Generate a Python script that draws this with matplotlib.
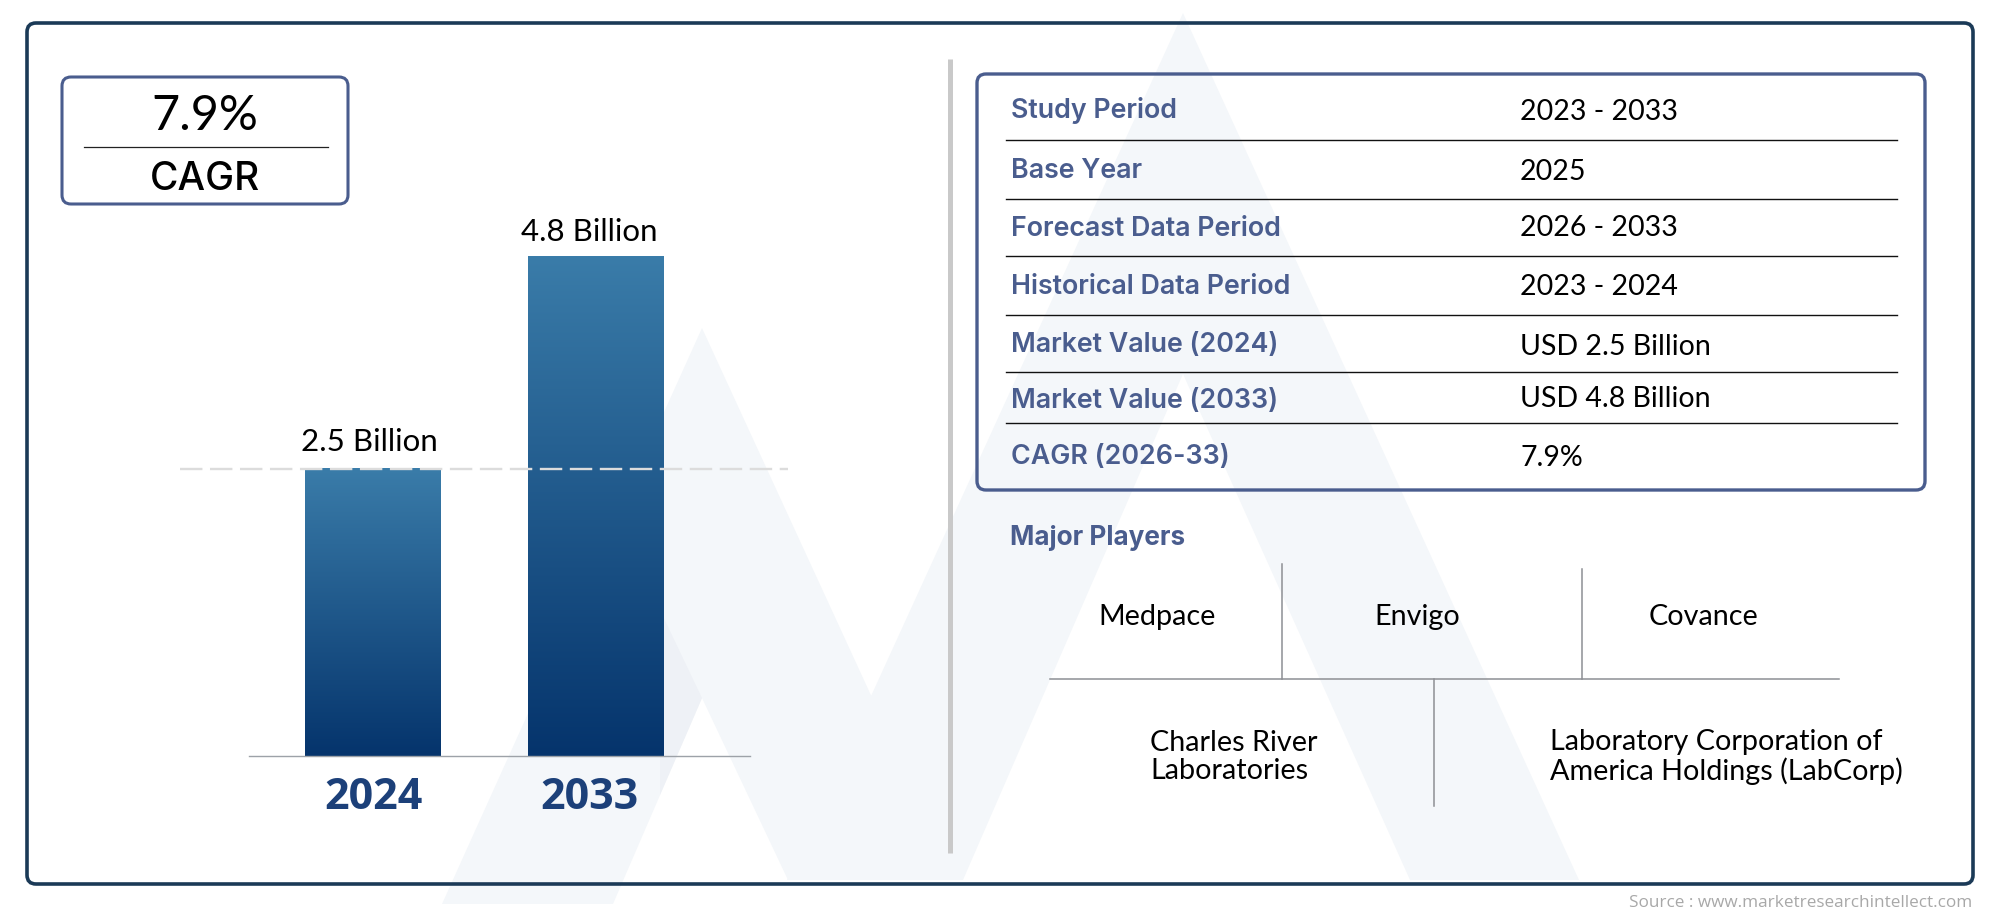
import numpy as np
import matplotlib
matplotlib.use("Agg")
import matplotlib.pyplot as plt
from matplotlib.colors import LinearSegmentedColormap
from matplotlib.patches import FancyBboxPatch, Polygon
from matplotlib.transforms import ScaledTranslation

W, H = 2000, 917

# data
years = ["2024", "2033"]
values = [2.5, 4.8]
value_labels = ["2.5 Billion", "4.8 Billion"]
baseline = -0.6   # bars in the source do not start at zero

rows = ["Study Period", "Base Year", "Forecast Data Period", "Historical Data Period",
        "Market Value (2024)", "Market Value (2033)", "CAGR (2026-33)"]
row_values = ["2023 - 2033", "2025", "2026 - 2033", "2023 - 2024",
              "USD 2.5 Billion", "USD 4.8 Billion", "7.9%"]
row_y = [111, 171, 229, 287, 345, 401, 457]
row_value_y = [112, 172, 228, 287, 347, 399, 458]
rule_y = [140, 199, 256, 315, 372, 423]

players = ["Medpace", "Envigo", "Covance"]
players_x = [1157, 1417, 1703]
players2 = ["Charles River\nLaboratories", "Laboratory Corporation of\nAmerica Holdings (LabCorp)"]
players2_x = [1150, 1550]

# label nudges in points, the source labels are not centred on the bars
label_dx = [-2.7, -4.6]
label_dy = [9.3, 7.2]

NAVY = "#1b3a57"
SLATE = "#4a5d8e"
TINT = "#f4f7fa"
BODY = "Lato"
HEAD = "Inter"

fig = plt.figure(figsize=(W / 100, H / 100), dpi=100, facecolor="white")

# page layer in pixel coords
bg = fig.add_axes([0, 0, 1, 1])
bg.set_xlim(0, W)
bg.set_ylim(H, 0)
bg.axis("off")

# watermark
big_peak = [(1183, 13), (1579, 880), (1410, 880), (1183, 374), (963, 880), (787, 880)]
small_peak = [(702, 328), (956, 880), (788, 880), (702, 698), (613, 904), (442, 904)]
overlap = [(702, 698), (660, 610), (660, 795)]
bg.add_patch(Polygon(big_peak, fc=TINT, ec="none", zorder=1))
bg.add_patch(Polygon(small_peak, fc=TINT, ec="none", zorder=1))
bg.add_patch(Polygon(overlap, fc="#eef1f6", ec="none", zorder=1))


def box(x0, y0, x1, y1, color, lw):
    bg.add_patch(FancyBboxPatch((x0, y0), x1 - x0, y1 - y0,
                                boxstyle="round,pad=0,rounding_size=9",
                                fc="none", ec=color, lw=lw, zorder=2))


box(27, 23, 1973, 884, NAVY, 2.6)
box(62, 77, 348, 204, SLATE, 2.2)
box(977, 74, 1925, 490, SLATE, 2.4)

# cagr card
bg.plot([84, 328], [147, 147], color="#222222", lw=0.9, zorder=3)
bg.text(205, 116, "7.9%", family=BODY, fontsize=35, ha="center", va="center", color="black", zorder=3)
bg.text(205, 179, "CAGR", family=HEAD, fontsize=28, fontweight=500, ha="center", va="center", color="black", zorder=3)

# divider
bg.plot([950, 950], [59, 853], color="#c9c9c9", lw=3.6, solid_capstyle="butt", zorder=2)

# table
for label, val, y1, y2 in zip(rows, row_values, row_y, row_value_y):
    bg.text(1011, y1, label, family=HEAD, fontsize=19.3, fontweight=600, color=SLATE, va="center", zorder=3)
    bg.text(1520, y2, val, family=BODY, fontsize=20.5, color="black", va="center", zorder=3)
for y in rule_y:
    bg.plot([1006, 1897], [y, y], color="#111111", lw=1.0, zorder=3)

# major players
bg.text(1010, 538, "Major Players", family=HEAD, fontsize=18.8, fontweight=700, color=SLATE, va="center", zorder=3)
for x0, y0, x1, y1 in [(1282, 564, 1282, 679), (1582, 569, 1582, 679), (1050, 679, 1839, 679), (1434, 679, 1434, 806)]:
    bg.plot([x0, x1], [y0, y1], color="#8d8f94", lw=1.1, zorder=3)
for name, x in zip(players, players_x):
    bg.text(x, 617, name, family=BODY, fontsize=20.7, ha="center", va="center", color="black", zorder=3)
for name, x in zip(players2, players2_x):
    bg.text(x, 757, name, family=BODY, fontsize=20.7, ha="left", va="center", color="black", linespacing=1.13, zorder=3)

bg.text(1972, 903, "Source : www.marketresearchintellect.com", family="Open Sans", fontsize=12.3,
        ha="right", va="center", color="#a8a8a8")

# bar chart
ax = fig.add_axes([249 / W, 1 - 756 / H, (750 - 249) / W, (756 - 256) / H])
ax.patch.set_alpha(0)
x = np.arange(len(years))
cmap = LinearSegmentedColormap.from_list("bar", ["#05346c", "#3a7ca9"])
grad = np.linspace(1, 0, 256).reshape(-1, 1)
bars = ax.bar(x, np.array(values) - baseline, bottom=baseline, width=0.611, color="none", zorder=2)
for b, label, dx, dy in zip(bars, value_labels, label_dx, label_dy):
    x0, y0, w, h = b.get_x(), b.get_y(), b.get_width(), b.get_height()
    ax.imshow(grad, extent=[x0, x0 + w, y0, y0 + h], cmap=cmap, aspect="auto", zorder=2, vmin=0, vmax=1)
    ax.annotate(label, (x0 + w / 2, y0 + h), xytext=(dx, dy), textcoords="offset points", ha="center", va="bottom",
                family=BODY, fontsize=22.5, color="black", annotation_clip=False)
ax.set_xlim((249 - 373) / 222.5, (750 - 373) / 222.5)
ax.set_ylim(baseline, max(values))

ax.plot([(180 - 373) / 222.5, (788 - 373) / 222.5], [values[0], values[0]], color="#dcdcdc", lw=1.7,
        dashes=(9.5, 3.2), clip_on=False, zorder=3)

for s in ["top", "left", "right"]:
    ax.spines[s].set_visible(False)
ax.spines["bottom"].set_color("#9da2a8")
ax.spines["bottom"].set_linewidth(1.0)
ax.set_yticks([])
ax.set_xticks(x, years)
ax.tick_params(axis="x", length=0, pad=14.5)
for t, dx in zip(ax.get_xticklabels(), [0, -4.6]):
    t.set_family("Open Sans")
    t.set_fontweight("bold")
    t.set_fontsize(31)
    t.set_color("#1c4079")
    t.set_transform(t.get_transform() + ScaledTranslation(dx / 72, 0, fig.dpi_scale_trans))

fig.savefig("out.png", dpi=100)
